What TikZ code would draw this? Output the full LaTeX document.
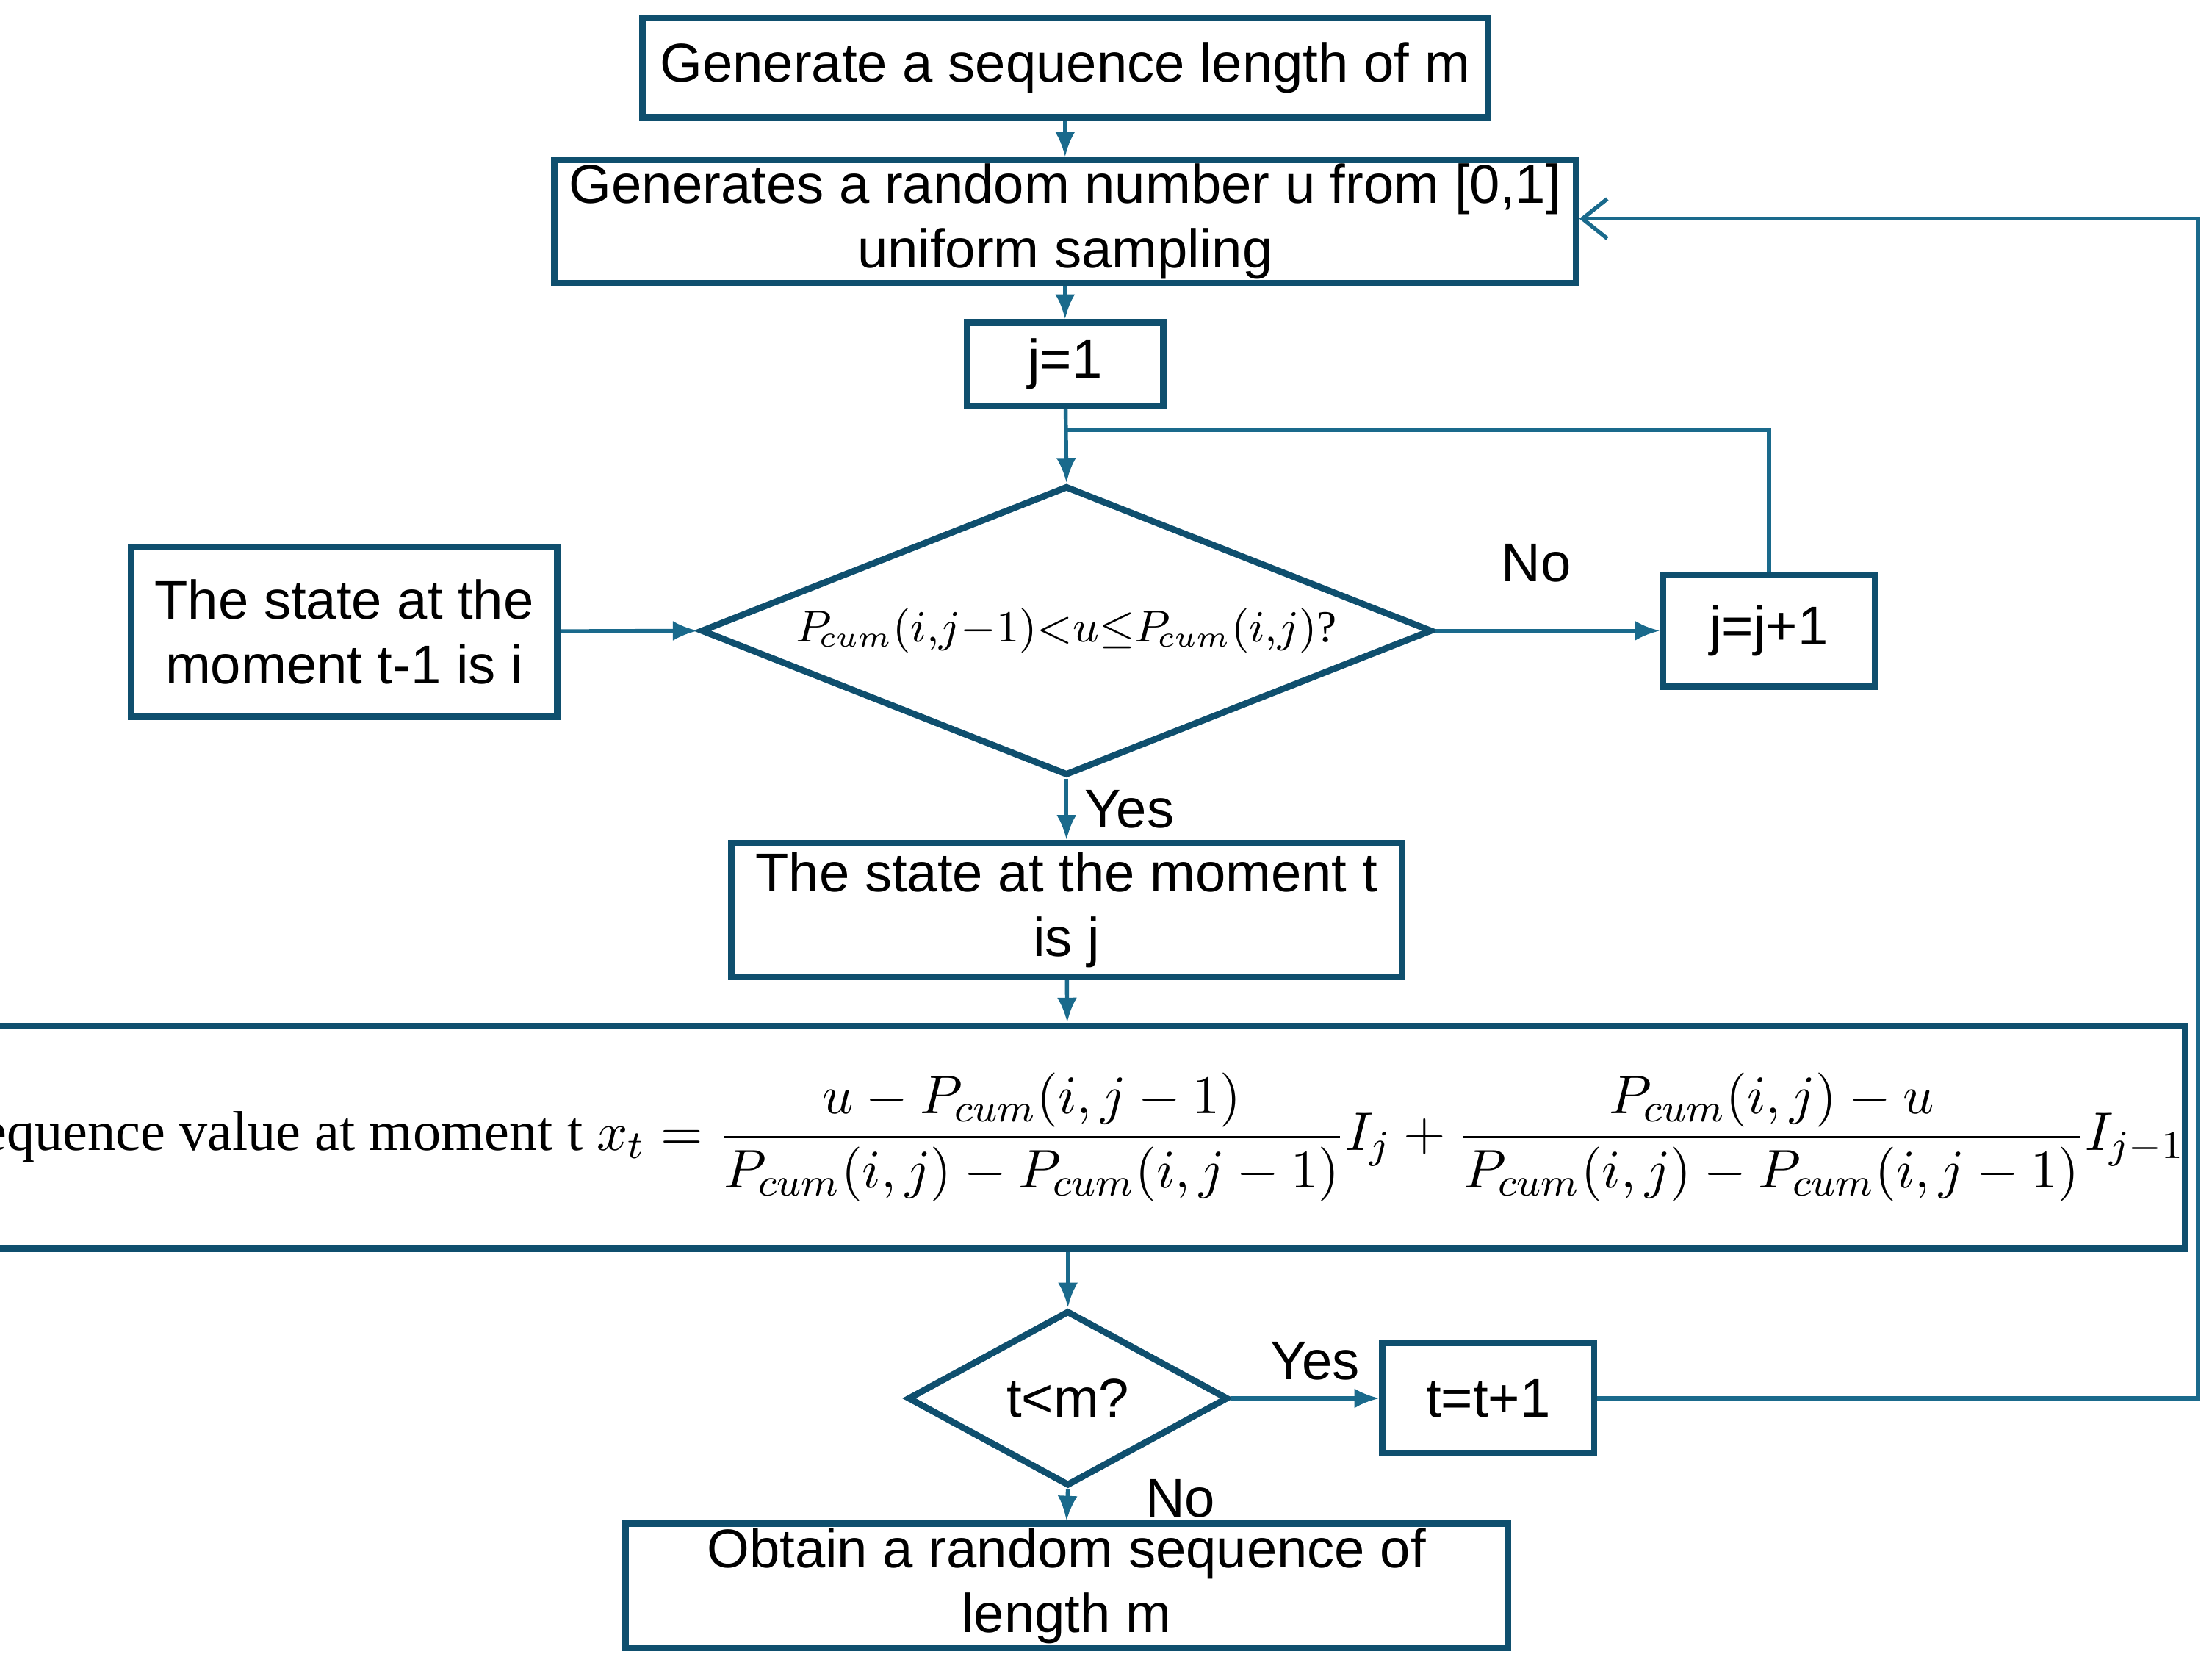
\documentclass[tikz,border=0pt]{standalone}
\usepackage{amsmath}
\usepackage{fontspec}
\setmainfont{Liberation Sans}
\newfontfamily\serifx{Liberation Serif}
\usetikzlibrary{shapes.geometric,arrows.meta}
\definecolor{bx}{HTML}{0F4F6E}
\definecolor{ln}{HTML}{1A6A8C}
\begin{document}
\begin{tikzpicture}[x=0.01cm,y=-0.01cm,
  box/.style={draw=bx,line width=1.3pt,inner sep=0pt,align=center,font=\fontsize{11}{13}\selectfont},
  ar/.style={draw=ln,line width=0.8pt,-{Latex[length=5pt,width=4pt]}},
  lab/.style={font=\fontsize{11}{13}\selectfont}]
\useasboundingbox (0,0) rectangle (1568,1182);
\node[box,minimum width=5.99cm,minimum height=0.7cm] (a) at (755,48) {Generate a sequence length of m};
\node[box,minimum width=7.24cm,minimum height=0.87cm] (b) at (755,157) {Generates a random number u from [0,1]\\uniform sampling};
\node[box,minimum width=1.39cm,minimum height=0.59cm] (c) at (755,258) {j=1};
\node[draw=bx,line width=1.3pt,diamond,aspect=2.53,minimum width=5.18cm,minimum height=2.05cm,inner sep=0pt] (d) at (756,447) {\serifx\fontsize{9}{11}\selectfont$P_{\!cum}(i,\!j{-}1){<}u{\le}P_{\!cum}(i,\!j)$?};
\node[box,minimum width=3.02cm,minimum height=1.2cm] (s) at (244,448) {The state at the\\moment t-1 is i};
\node[box,minimum width=1.5cm,minimum height=0.79cm] (e) at (1254,447) {j=j+1};
\node[box,minimum width=4.75cm,minimum height=0.95cm] (f) at (756,645) {The state at the moment t\\is j};
\node[box,minimum width=14.9cm,minimum height=1.58cm,font=\serifx\fontsize{11.3}{14}\selectfont] (g) at (757,806) {Sequence value at moment t $x_t=\dfrac{u-P_{cum}(i,j-1)}{P_{cum}(i,j)-P_{cum}(i,j-1)}I_j+\dfrac{P_{cum}(i,j)-u}{P_{cum}(i,j)-P_{cum}(i,j-1)}I_{j-1}$};
\node[draw=bx,line width=1.3pt,diamond,aspect=1.83,minimum width=2.27cm,minimum height=1.24cm,inner sep=0pt,lab] (h) at (757,991) {t<m?};
\node[box,minimum width=1.5cm,minimum height=0.78cm] (k) at (1055,991) {t=t+1};
\node[box,minimum width=6.25cm,minimum height=0.88cm] (z) at (756,1124) {Obtain a random sequence of\\length m};
\coordinate (jn) at (755,305);
\coordinate (c1) at (1558,991);
\coordinate (c2) at (1558,155);
\draw[ar] (a) -- (b);
\draw[ar] (b) -- (c);
\draw[ar] (c) -- (d.north);
\draw[draw=ln,line width=0.8pt] (e.north) |- (jn);
\draw[ar] (s) -- (d.west);
\draw[ar] (d.east) -- node[lab,above,yshift=6pt,pos=0.45]{No} (e.west);
\draw[ar] (d.south) -- node[lab,right,pos=0.5]{Yes} (f.north);
\draw[ar] (f) -- (g);
\draw[ar] (g) -- (h.north);
\draw[ar] (h.east) -- node[lab,above,xshift=2pt]{Yes} (k.west);
\draw[ar] (h.south) -- node[lab,right,xshift=12pt,pos=0.3]{No} (z.north);
\draw[draw=ln,line width=0.8pt,-{Straight Barb[length=5pt,width=8pt]}] (k.east) -- (c1) -- (c2) -- (b.east|-c2);
\end{tikzpicture}
\end{document}
